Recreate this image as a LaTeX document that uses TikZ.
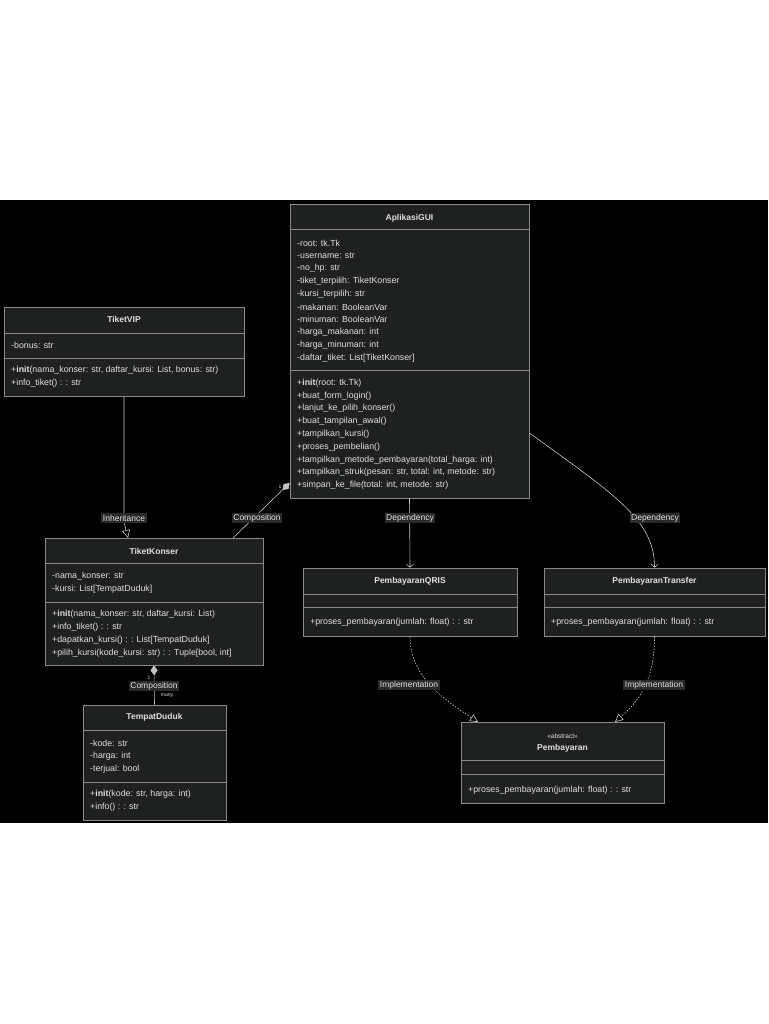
\documentclass[tikz,border=0pt]{standalone}
\usepackage{fontspec}
\setmainfont{Liberation Sans}
\usepackage{xcolor}
\usetikzlibrary{arrows.meta}

\definecolor{boxfill}{HTML}{1F2020}
\definecolor{boxline}{HTML}{8A8A8A}
\definecolor{txt}{HTML}{E0E0E0}
\definecolor{lblfill}{HTML}{2A2A2A}
\definecolor{relline}{HTML}{C4C4C4}

\begin{document}
\begin{tikzpicture}[x=1pt, y=-1pt,
  cls/.style={draw=boxline, fill=boxfill, line width=0.7pt, inner sep=0pt},
  sep/.style={draw=boxline, line width=0.7pt},
  ttl/.style={text=txt, font=\fontsize{8.5}{10}\selectfont\bfseries, inner sep=0pt},
  mem/.style={text=txt, font=\fontsize{8.8}{10}\selectfont, anchor=west, inner sep=0pt},
  lbl/.style={text=txt, fill=lblfill, font=\fontsize{8.5}{10}\selectfont, inner sep=1.5pt},
  mult/.style={text=txt, font=\fontsize{5}{6}\selectfont, inner sep=0pt},
  rel/.style={draw=relline, line width=0.6pt},
  impl/.style={rel, dash pattern=on 1.5pt off 1.5pt},
  hollow/.style={-{Triangle[open, length=8pt, width=8pt]}},
  dep/.style={-{Straight Barb[length=3pt, width=7pt]}},
  comp/.style={{Diamond[length=10pt, width=7pt, fill=relline]}-},
]

\useasboundingbox (0,0) rectangle (768,1024);
\fill[white] (0,0) rectangle (768,1024);
\fill[black] (0,200) rectangle (768,823);

% TiketVIP
\node[cls, minimum width=240pt, minimum height=89pt] (vip) at (124,351.5) {};
\node[ttl] (vipT) at (124,319) {TiketVIP};
\draw[sep] (vip.west |- 0,333) -- (vip.east |- 0,333);
\draw[sep] (vip.west |- 0,358) -- (vip.east |- 0,358);
\node[mem] (vipA1) at (11,345) {-bonus: str};
\node[mem] (vipM1) at (11,370) {+\textbf{init}(nama\_konser: str, daftar\_kursi: List, bonus: str)};
\node[mem] (vipM2) at (11,383) {+info\_tiket() : : str};

% AplikasiGUI
\node[cls, minimum width=239pt, minimum height=294pt] (gui) at (409.5,351) {};
\node[ttl] (guiT) at (409.5,218) {AplikasiGUI};
\draw[sep] (gui.west |- 0,229) -- (gui.east |- 0,229);
\draw[sep] (gui.west |- 0,370) -- (gui.east |- 0,370);
\foreach \t [count=\i] in {-root: tk.Tk, -username: str, -no\_hp: str,
    -tiket\_terpilih: TiketKonser, -kursi\_terpilih: str, -makanan: BooleanVar,
    -minuman: BooleanVar, -harga\_makanan: int, -harga\_minuman: int,
    -daftar\_tiket: List[TiketKonser]} {
    \node[mem] (guiA\i) at (297, 230.2+12.8*\i) {\t};
};
\foreach \t [count=\i] in {+\textbf{init}(root: tk.Tk), +buat\_form\_login(),
    +lanjut\_ke\_pilih\_konser(), +buat\_tampilan\_awal(), +tampilkan\_kursi(),
    +proses\_pembelian(), +tampilkan\_metode\_pembayaran(total\_harga: int),
    {+tampilkan\_struk(pesan: str, total: int, metode: str)},
    {+simpan\_ke\_file(total: int, metode: str)}} {
    \node[mem] (guiM\i) at (297, 370.2+12.8*\i) {\t};
};

% TiketKonser
\node[cls, minimum width=218pt, minimum height=127pt] (konser) at (154,601.5) {};
\node[ttl] (konserT) at (154,551) {TiketKonser};
\draw[sep] (konser.west |- 0,563) -- (konser.east |- 0,563);
\draw[sep] (konser.west |- 0,602) -- (konser.east |- 0,602);
\node[mem] (konserA1) at (52,576) {-nama\_konser: str};
\node[mem] (konserA2) at (52,589) {-kursi: List[TempatDuduk]};
\node[mem] (konserM1) at (52,614) {+\textbf{init}(nama\_konser: str, daftar\_kursi: List)};
\node[mem] (konserM2) at (52,627) {+info\_tiket() : : str};
\node[mem] (konserM3) at (52,640) {+dapatkan\_kursi() : : List[TempatDuduk]};
\node[mem] (konserM4) at (52,653) {+pilih\_kursi(kode\_kursi: str) : : Tuple[bool, int]};

% TempatDuduk
\node[cls, minimum width=143pt, minimum height=115pt] (seat) at (154.5,762.5) {};
\node[ttl] (seatT) at (154.5,717) {TempatDuduk};
\draw[sep] (seat.west |- 0,730) -- (seat.east |- 0,730);
\draw[sep] (seat.west |- 0,782) -- (seat.east |- 0,782);
\node[mem] (seatA1) at (90,743) {-kode: str};
\node[mem] (seatA2) at (90,756) {-harga: int};
\node[mem] (seatA3) at (90,769) {-terjual: bool};
\node[mem] (seatM1) at (90,794) {+\textbf{init}(kode: str, harga: int)};
\node[mem] (seatM2) at (90,807) {+info() : : str};

% PembayaranQRIS
\node[cls, minimum width=214pt, minimum height=68pt] (qris) at (410,602) {};
\node[ttl] (qrisT) at (410,581) {PembayaranQRIS};
\draw[sep] (qris.west |- 0,594) -- (qris.east |- 0,594);
\draw[sep] (qris.west |- 0,607) -- (qris.east |- 0,607);
\node[mem] (qrisM1) at (310,622) {+proses\_pembayaran(jumlah: float) : : str};

% PembayaranTransfer
\node[cls, minimum width=221pt, minimum height=68pt] (transfer) at (654.5,602) {};
\node[ttl] (transferT) at (654.5,581) {PembayaranTransfer};
\draw[sep] (transfer.west |- 0,594) -- (transfer.east |- 0,594);
\draw[sep] (transfer.west |- 0,607) -- (transfer.east |- 0,607);
\node[mem] (transferM1) at (551,622) {+proses\_pembayaran(jumlah: float) : : str};

% Pembayaran
\node[cls, minimum width=203pt, minimum height=81pt] (pay) at (562.5,762.5) {};
\node[text=txt, font=\fontsize{6.5}{8}\selectfont, inner sep=0pt] (payS) at (562.5,736) {«abstract»};
\node[ttl] (payT) at (562.5,748) {Pembayaran};
\draw[sep] (pay.west |- 0,760) -- (pay.east |- 0,760);
\draw[sep] (pay.west |- 0,774) -- (pay.east |- 0,774);
\node[mem] (payM1) at (468,790) {+proses\_pembayaran(jumlah: float) : : str};

% relations
\coordinate (inhEnd) at (128,538);
\coordinate (compA) at (233,538);
\coordinate (compB) at (gui.west |- 0,483);
\coordinate (depStart) at (gui.east |- 0,433);
\coordinate (implA) at (478,722);
\coordinate (implB) at (615,722);

\draw[rel, hollow] (vip.south) -- (124,522) -- (inhEnd);
\draw[rel, comp] (compB) -- (compA);
\draw[rel, comp] (konser.south) -- (seat.north);
\draw[rel, dep] (gui.south) -- (qris.north);
\draw[rel, dep] (depStart) .. controls (615,495) and (654.5,520) .. (transfer.north);
\draw[impl, hollow] (qris.south) .. controls (410,675) and (440,697) .. (implA);
\draw[impl, hollow] (transfer.south) .. controls (654.5,680) and (640,700) .. (implB);

\node[lbl] (inhL) at (124,518) {Inheritance};
\node[lbl] (compL1) at (257,518) {Composition};
\node[mult] (compN1) at (280,487) {1};
\node[lbl] (compL2) at (154,686) {Composition};
\node[mult] (compN2) at (149,678) {1};
\node[mult] (compN3) at (167,696) {many};
\node[lbl] (depL1) at (410,518) {Dependency};
\node[lbl] (depL2) at (655,518) {Dependency};
\node[lbl] (implL1) at (409,685) {Implementation};
\node[lbl] (implL2) at (654,685) {Implementation};

\end{tikzpicture}
\end{document}
